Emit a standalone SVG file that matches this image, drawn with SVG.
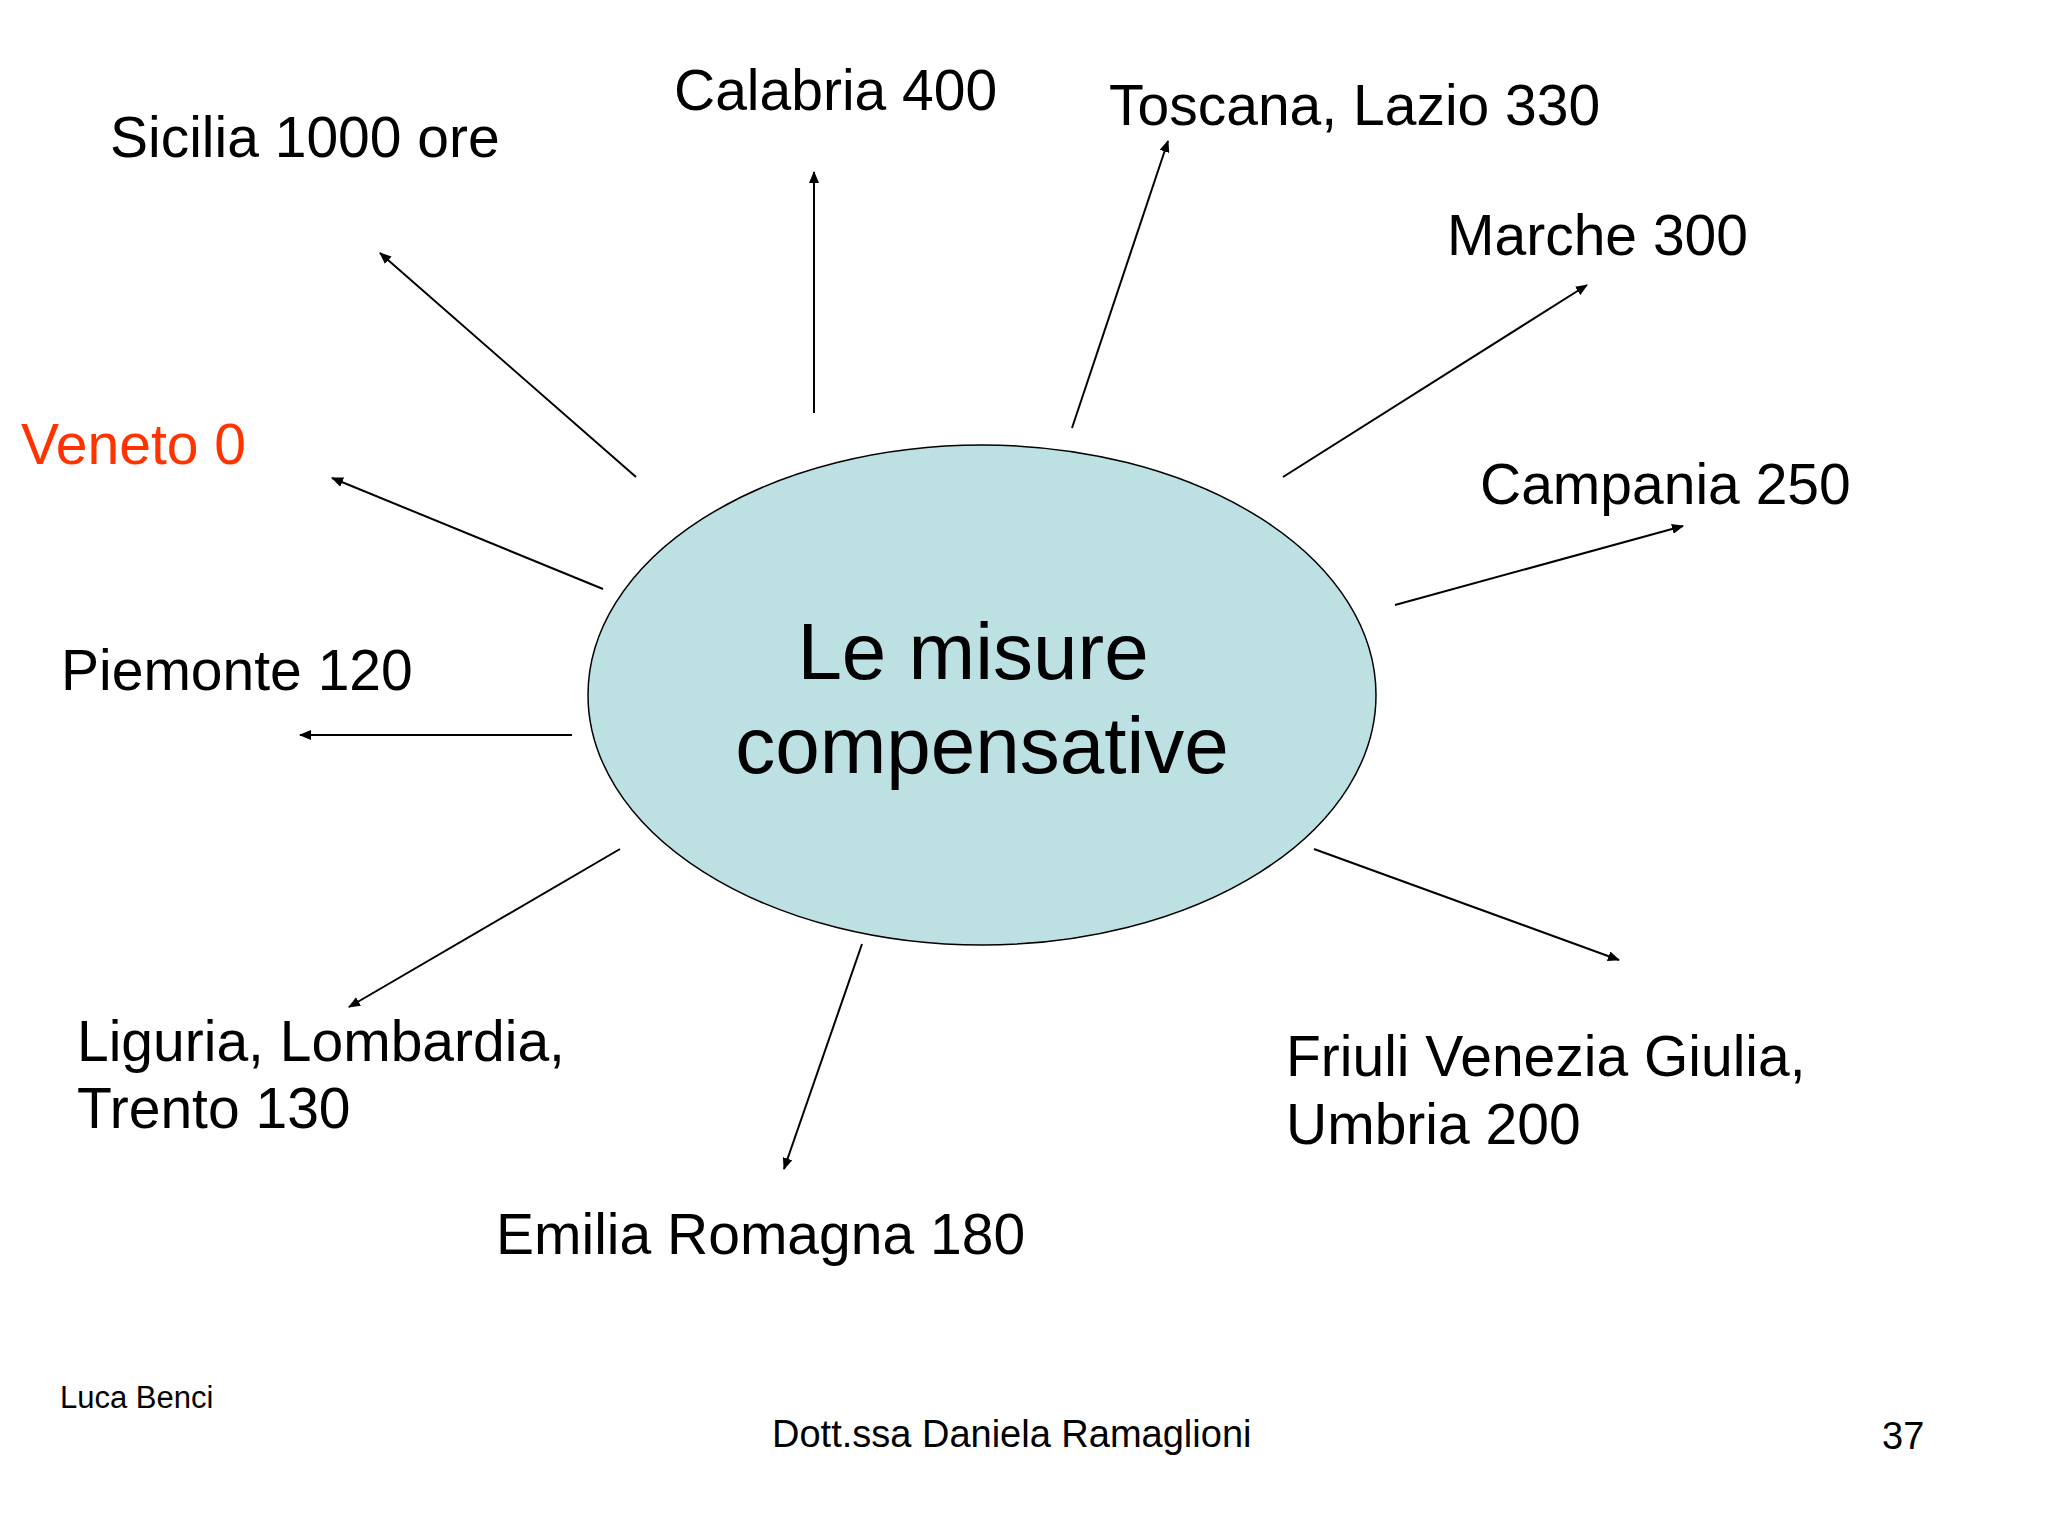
<svg xmlns="http://www.w3.org/2000/svg" width="2048" height="1536" viewBox="0 0 2048 1536">
<defs><marker id="a" markerWidth="12" markerHeight="10" refX="11" refY="5" orient="auto" markerUnits="userSpaceOnUse"><path d="M0,0 L12,5 L0,10 z" fill="#000"/></marker></defs>
<style>text{font-family:"Liberation Sans",Arial,sans-serif;fill:#000}.l{font-size:57px}.c{font-size:80px;text-anchor:middle}line{stroke:#000;stroke-width:2;marker-end:url(#a)}</style>
<rect width="2048" height="1536" fill="#fff"/>
<g id="center"><ellipse cx="982" cy="695" rx="394" ry="250" fill="#bde0e2" stroke="#000" stroke-width="1.5"/><text class="c" x="973" y="679">Le misure</text><text class="c" x="982" y="773">compensative</text></g>
<g id="connectors">
<line x1="636" y1="477" x2="380" y2="253"/><line x1="814" y1="413" x2="814" y2="172"/><line x1="1072" y1="428" x2="1168" y2="141"/><line x1="1283" y1="477" x2="1587" y2="285"/><line x1="603" y1="589" x2="332" y2="478"/><line x1="1395" y1="605" x2="1683" y2="526"/><line x1="572" y1="735" x2="300" y2="735"/><line x1="620" y1="849" x2="349" y2="1007"/><line x1="862" y1="944" x2="784" y2="1169"/><line x1="1314" y1="849" x2="1619" y2="960"/>
</g>
<g id="sicilia"><text class="l" x="110" y="157">Sicilia 1000 ore</text></g>
<g id="calabria"><text class="l" x="674" y="110">Calabria 400</text></g>
<g id="toscana"><text class="l" x="1109" y="125">Toscana, Lazio 330</text></g>
<g id="marche"><text class="l" x="1447" y="255">Marche 300</text></g>
<g id="veneto"><text class="l" x="21" y="464" style="fill:#ff3300">Veneto 0</text></g>
<g id="campania"><text class="l" x="1480" y="504">Campania 250</text></g>
<g id="piemonte"><text class="l" x="61" y="690">Piemonte 120</text></g>
<g id="liguria"><text class="l" x="77" y="1061">Liguria, Lombardia,</text><text class="l" x="77" y="1128">Trento 130</text></g>
<g id="friuli"><text class="l" x="1286" y="1076">Friuli Venezia Giulia,</text><text class="l" x="1286" y="1144">Umbria 200</text></g>
<g id="emilia"><text class="l" x="496" y="1254">Emilia Romagna 180</text></g>
<text x="60" y="1408" font-size="31">Luca Benci</text>
<text x="772" y="1447" font-size="38">Dott.ssa Daniela Ramaglioni</text>
<text x="1882" y="1449" font-size="38">37</text>
</svg>
